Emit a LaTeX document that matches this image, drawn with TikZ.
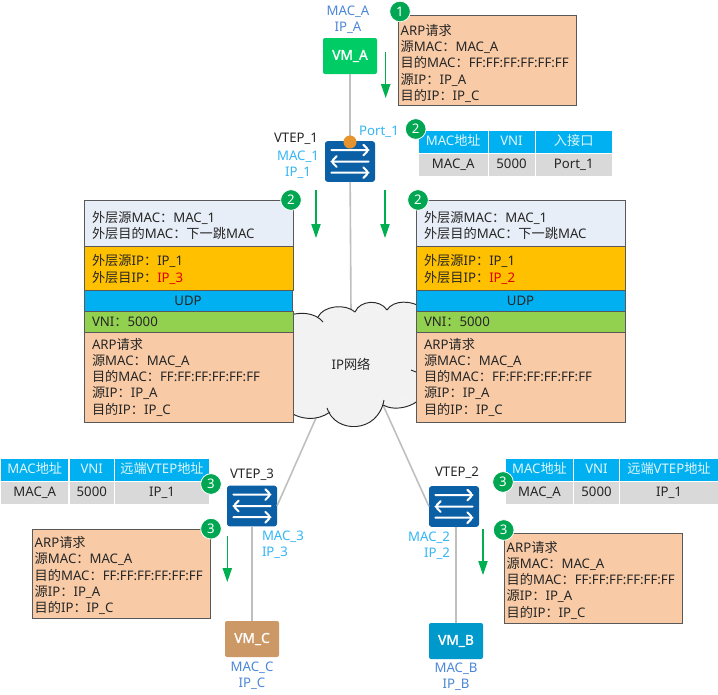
\documentclass[tikz,border=0pt]{standalone}
\usepackage{fontspec}
\setmainfont{Noto Sans}
\newfontfamily\cjk{Noto Sans CJK SC}
\newfontfamily\vmfont{Noto Sans}[FakeBold=1.5]
\usetikzlibrary{arrows.meta,calc}
\newcommand{\zh}[1]{{\cjk #1}}
\newcommand{\lift}[1]{\rule{0pt}{#1}}
\newcommand{\arptext}{ARP\zh{请求}\\\zh{源}MAC\zh{：}MAC\_A\\\zh{目的}MAC\zh{：}FF:FF:FF:FF:FF:FF\\\zh{源}IP\zh{：}IP\_A\\\zh{目的}IP\zh{：}IP\_C}
% cell: name, style, x1, y1, x2, y2, text
\newcommand{\cell}[7]{\node[#2,anchor=north west,minimum width={(#5-#3)*0.75pt},minimum height={(#6-#4)*0.75pt}] (#1) at (#3,#4) {#7};}
\definecolor{arpfill}{HTML}{F8CBA6}
\definecolor{hdr}{HTML}{00B0F0}
\definecolor{bodygray}{HTML}{D9D9D9}
\definecolor{ink}{HTML}{262626}
\definecolor{edge}{HTML}{595959}
\definecolor{wire}{HTML}{BFBFBF}
\definecolor{flowgreen}{HTML}{00B050}
\definecolor{badgegreen}{HTML}{00A651}
\definecolor{hostblue}{HTML}{4A86D8}
\definecolor{vtepblue}{HTML}{33B5F5}
\definecolor{swblue}{HTML}{0B5FA5}
\definecolor{cloudfill}{HTML}{F2F2F2}
\definecolor{vmagreen}{HTML}{00CC66}
\definecolor{vmctan}{HTML}{CC9966}
\definecolor{vmbblue}{HTML}{0099CC}
\definecolor{macrow}{HTML}{E8EEF7}
\definecolor{iprow}{HTML}{FFC000}
\definecolor{vnirow}{HTML}{92D050}
\definecolor{alert}{HTML}{E00000}
\definecolor{portdot}{HTML}{E8942E}
\tikzset{
  every node/.style={font=\fontsize{9.9}{12.2}\selectfont,text=ink,inner sep=0pt,outer sep=0pt},
  arp/.style={fill=arpfill,draw=edge,line width=0.75pt,align=left,inner xsep=2pt,text width=130pt},
  tbh/.style={fill=hdr,text=white!88!hdr,text height=7.5pt,text depth=2pt},
  tbb/.style={fill=bodygray,text height=7.5pt,text depth=2pt},
  layer/.style={draw=edge,line width=0.65pt,align=left,inner xsep=6pt,text width=144.75pt},
  layerc/.style={draw=edge,line width=0.65pt,fill=hdr},
  vm/.style={rounded corners=1.5pt,text=white,font=\fontsize{10.3}{12.2}\selectfont\vmfont},
  switch/.style={fill=swblue,rounded corners=2pt,minimum width=37.5pt,minimum height=30.5pt,
    path picture={
      \begin{scope}[shift={(path picture bounding box.center)},x=1pt,y=1pt,white,line width=1.5pt]
        \draw[line cap=round] (-14,8.6) -- (14,8.6) (10,12.6) -- (14,8.6) -- (10,4.6);
        \draw[line cap=round] (14,0) -- (-14,0) (-10,4) -- (-14,0) -- (-10,-4);
        \draw[line cap=round] (-14,-8.4) -- (14,-8.4) (10,-4.4) -- (14,-8.4) -- (10,-12.4);
      \end{scope}}},
  badge/.style={circle,fill=badgegreen,draw=white,line width=0.6pt,minimum size=15.5pt,text=white},
  hostlabel/.style={text=hostblue,align=center},
  vteplabel/.style={text=vtepblue},
  link/.style={draw=wire,line width=1.2pt},
  flow/.style={draw=flowgreen,line width=0.8pt,-{Triangle[length=10.5pt,width=7pt,fill=flowgreen]}},
  cloudedge/.style={fill=cloudfill,draw=ink,line width=0.7pt}
}
\begin{document}
\begin{tikzpicture}[x=0.75pt,y=-0.75pt]
\useasboundingbox (0,0) rectangle (718,694);
% hosts and switches
\cell{vma}{vm,fill=vmagreen}{323}{38}{377}{74}{VM\_A}
\node[switch] (v1) at (350,161.5) {};
\node[switch] (v3) at (252,506) {};
\node[switch] (v2) at (454,506.5) {};
\cell{vmc}{vm,fill=vmctan}{225}{621}{279}{657}{VM\_C}
\cell{vmb}{vm,fill=vmbblue}{429}{623}{483}{659}{VM\_B}
% cloud attachment points
\coordinate (c1) at (351,312);
\coordinate (c3) at (316,418);
\coordinate (c2) at (383,405);
\draw[link] (vma) -- (v1);
\draw[link] (v1) -- (c1);
\draw[link] (v3.east) -- (c3);
\draw[link] (v2.west) -- (c2);
\draw[link] (vmc.north |- v3.south) -- (vmc.north);
\draw[link] (vmb.north |- v2.south) -- (vmb.north);
% cloud
\fill[cloudfill] (285,317) -- (318,317) -- (355,312) -- (387,310) -- (425,310) -- (425,392) -- (383,405) -- (355,420) -- (330,412) -- (285,409) -- cycle;
\path[cloudedge] (285,317) .. controls (298,311) and (315,312) .. (323,322);
\path[cloudedge] (318,317) .. controls (323,306) and (345,303) .. (355,312);
\path[cloudedge] (355,312) .. controls (360,300) and (380,299) .. (387,310);
\path[cloudedge] (387,310) .. controls (393,300) and (412,299) .. (425,310);
\path[cloudedge] (425,392) .. controls (418,407) and (395,412) .. (383,405);
\path[cloudedge] (384,400) .. controls (378,434) and (335,434) .. (327,408);
\path[cloudedge] (330,412) .. controls (318,421) and (300,421) .. (285,409);
\draw[draw=ink,line width=0.7pt] (411,370) -- (416,372);
\node (cloud) at (351,364) {IP\zh{网络}};
% flow arrows
\coordinate (a1s) at (385.7,52); \coordinate (a1e) at (385.7,98);
\coordinate (a2s) at (316,190);  \coordinate (a2e) at (316,238);
\coordinate (a3s) at (385,190);  \coordinate (a3e) at (385,238);
\coordinate (a4s) at (227.3,536);\coordinate (a4e) at (227.3,582);
\coordinate (a5s) at (483,529);  \coordinate (a5e) at (483,575);
\draw[flow] (a1s) -- (a1e);
\draw[flow] (a2s) -- (a2e);
\draw[flow] (a3s) -- (a3e);
\draw[flow] (a4s) -- (a4e);
\draw[flow] (a5s) -- (a5e);
% ARP boxes
\cell{arp1}{arp}{398}{15}{576}{105}{\lift{13.5pt}\arptext}
\cell{arp3}{arp}{32}{529}{210}{618}{\lift{11.5pt}\arptext}
\cell{arp2}{arp}{504}{533}{682}{623}{\lift{11.5pt}\arptext}
% left stack
\cell{l1}{layer,fill=macrow}{84}{200}{292}{246}{\lift{12pt}\zh{外层源}MAC\zh{：}MAC\_1\\\zh{外层目的}MAC\zh{：下一跳}MAC}
\cell{l2}{layer,fill=iprow}{84}{246}{292}{290}{\lift{10.5pt}\zh{外层源}IP\zh{：}IP\_1\\\zh{外层目}IP\zh{：}\textcolor{alert}{IP\_3}}
\cell{l3}{layerc}{84}{290}{292}{311}{UDP}
\cell{l4}{layer,fill=vnirow}{84}{311}{292}{332}{VNI\zh{：}5000}
\cell{l5}{layer,fill=arpfill}{84}{332}{292}{422}{\arptext}
% right stack
\cell{r1}{layer,fill=macrow}{416}{200}{625}{246}{\lift{12pt}\zh{外层源}MAC\zh{：}MAC\_1\\\zh{外层目的}MAC\zh{：下一跳}MAC}
\cell{r2}{layer,fill=iprow}{416}{246}{625}{290}{\lift{10.5pt}\zh{外层源}IP\zh{：}IP\_1\\\zh{外层目}IP\zh{：}\textcolor{alert}{IP\_2}}
\cell{r3}{layerc}{416}{290}{625}{311}{UDP}
\cell{r4}{layer,fill=vnirow}{416}{311}{625}{332}{VNI\zh{：}5000}
\cell{r5}{layer,fill=arpfill}{416}{332}{625}{422}{\arptext}
% table at VTEP_1
\cell{t1a}{tbh}{419}{131}{487.5}{153}{MAC\zh{地址}}
\cell{t1b}{tbh}{488.5}{131}{534.5}{153}{VNI}
\cell{t1c}{tbh}{535.5}{131}{612}{153}{\zh{入接口}}
\cell{t1d}{tbb}{419}{154}{487.5}{176}{MAC\_A}
\cell{t1e}{tbb}{488.5}{154}{534.5}{176}{5000}
\cell{t1f}{tbb}{535.5}{154}{612}{176}{Port\_1}
% table at VTEP_3
\cell{t3a}{tbh}{1.5}{459}{68}{481}{MAC\zh{地址}}
\cell{t3b}{tbh}{69.5}{459}{114}{481}{VNI}
\cell{t3c}{tbh}{115}{459}{209}{481}{\zh{远端}VTEP\zh{地址}}
\cell{t3d}{tbb}{1.5}{482}{68}{504}{MAC\_A}
\cell{t3e}{tbb}{69.5}{482}{114}{504}{5000}
\cell{t3f}{tbb}{115}{482}{209}{504}{IP\_1}
% table at VTEP_2
\cell{t2a}{tbh}{506}{459}{573}{481}{MAC\zh{地址}}
\cell{t2b}{tbh}{574}{459}{619}{481}{VNI}
\cell{t2c}{tbh}{620}{459}{718}{481}{\zh{远端}VTEP\zh{地址}}
\cell{t2d}{tbb}{506}{482}{573}{504}{MAC\_A}
\cell{t2e}{tbb}{574}{482}{619}{504}{5000}
\cell{t2f}{tbb}{620}{482}{718}{504}{IP\_1}
% port dot
\node[circle,fill=portdot,minimum size=9.8pt] (port) at (350,142) {};
% labels
\node[hostlabel] (la) at (348,20) {MAC\_A\\IP\_A};
\node (n1) at (296,139) {VTEP\_1};
\node[vteplabel,align=center] (m1) at (298,165) {MAC\_1\\IP\_1};
\node[vteplabel] (p1) at (379,132) {Port\_1};
\node (n3) at (252,475) {VTEP\_3};
\node[vteplabel,align=left,anchor=west] (m3) at (262,545) {MAC\_3\\IP\_3};
\node (n2) at (457,473) {VTEP\_2};
\node[vteplabel,align=right,anchor=east] (m2) at (450,546) {MAC\_2\\IP\_2};
\node[hostlabel] (lc) at (252,676) {MAC\_C\\IP\_C};
\node[hostlabel] (lb) at (456,677) {MAC\_B\\IP\_B};
% badges
\node[badge] (b1) at (400,11.5) {1};
\node[badge] (b2a) at (415.7,129) {2};
\node[badge] (b2b) at (291,200) {2};
\node[badge] (b2c) at (418,200) {2};
\node[badge] (b3a) at (211,484) {3};
\node[badge] (b3b) at (211,528.7) {3};
\node[badge] (b3c) at (503,482) {3};
\node[badge] (b3d) at (503.7,530) {3};
\end{tikzpicture}
\end{document}
